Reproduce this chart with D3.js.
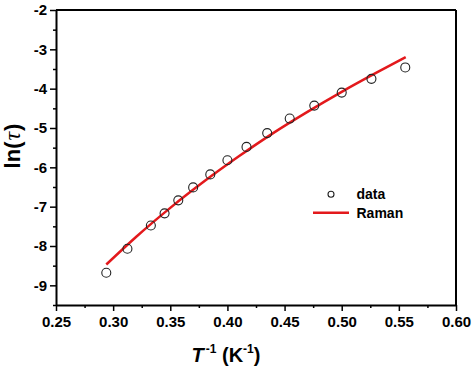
<!DOCTYPE html>
<html>
<head>
<meta charset="utf-8">
<script src="https://cdn.jsdelivr.net/npm/d3@7"></script>
<style>
  body { margin: 0; background: #fff; }
  text { font-family: "Liberation Sans", Arial, sans-serif; }
</style>
</head>
<body>
<div id="canvas"></div>
<script>
// data
const invT = [0.294, 0.3125, 0.333, 0.345, 0.357, 0.370, 0.385, 0.400, 0.4167, 0.4348, 0.4545, 0.476, 0.500, 0.526, 0.5556];
const lnTau = [-8.68, -8.07, -7.48, -7.17, -6.84, -6.51, -6.18, -5.82, -5.48, -5.13, -4.76, -4.43, -4.10, -3.75, -3.46];

// Raman fit curve, read at a few points
const fitX = [0.294, 0.32, 0.35, 0.38, 0.41, 0.44, 0.47, 0.50, 0.53, 0.556];
const fitY = [-8.47, -7.77, -7.03, -6.35, -5.72, -5.13, -4.59, -4.08, -3.60, -3.20];

const xTicks = [0.25, 0.30, 0.35, 0.40, 0.45, 0.50, 0.55, 0.60];
const yTicks = [-9, -8, -7, -6, -5, -4, -3, -2];

const margin = { top: 10, right: 18, bottom: 68, left: 56 },
    width = 474 - margin.left - margin.right,
    height = 373 - margin.top - margin.bottom;

const svg = d3.select("#canvas")
    .append("svg")
    .attr("width", 474)
    .attr("height", 373)
    .append("g")
    .attr("transform", `translate(${margin.left},${margin.top})`);

const x = d3.scaleLinear().domain([0.25, 0.60]).range([0, width]);
const y = d3.scaleLinear().domain([-9.5, -2]).range([height, 0]);

// minor ticks
const xMinor = d3.range(0.275, 0.6, 0.05);
const yMinor = d3.range(-9.5, -2, 1);

svg.append("g")
    .attr("transform", `translate(0,${height})`)
    .call(d3.axisBottom(x).tickValues(xMinor).tickSize(3).tickFormat(""))
    .call(g => g.select(".domain").remove());

svg.append("g")
    .call(d3.axisLeft(y).tickValues(yMinor).tickSize(3).tickFormat(""))
    .call(g => g.select(".domain").remove());

const xAxis = svg.append("g")
    .attr("transform", `translate(0,${height})`)
    .call(d3.axisBottom(x).tickValues(xTicks).tickSize(6).tickSizeOuter(0).tickPadding(5)
        .tickFormat(d3.format(".2f")));

const yAxis = svg.append("g")
    .call(d3.axisLeft(y).tickValues(yTicks).tickSize(6).tickSizeOuter(0).tickPadding(3)
        .tickFormat(d => d));

svg.selectAll(".tick text")
    .attr("font-size", 15).attr("font-weight", "bold").attr("fill", "#000")
    .attr("font-family", "Liberation Sans, Arial, sans-serif");
svg.selectAll(".domain").attr("stroke-width", 2);
svg.selectAll(".tick line").attr("stroke-width", 1.5);

// frame top and right
svg.append("line").attr("x1", 0).attr("x2", width).attr("y1", 0).attr("y2", 0)
    .attr("stroke", "#000").attr("stroke-width", 2);
svg.append("line").attr("x1", width).attr("x2", width).attr("y1", 0).attr("y2", height)
    .attr("stroke", "#000").attr("stroke-width", 2);

// fit line
svg.append("path")
    .datum(fitX.map((d, i) => [d, fitY[i]]))
    .attr("fill", "none")
    .attr("stroke", "#e3191c")
    .attr("stroke-width", 2.5)
    .attr("d", d3.line().curve(d3.curveMonotoneX)
        .x(d => x(d[0]))
        .y(d => y(d[1])));

// data points
svg.append("g")
    .selectAll("circle")
    .data(invT.map((d, i) => [d, lnTau[i]]))
    .join("circle")
    .attr("cx", d => x(d[0]))
    .attr("cy", d => y(d[1]))
    .attr("r", 4.5)
    .attr("fill", "none")
    .attr("stroke", "#222")
    .attr("stroke-width", 1.1);

// legend
svg.append("circle")
    .attr("cx", 275).attr("cy", 184.3).attr("r", 3)
    .attr("fill", "none").attr("stroke", "#222").attr("stroke-width", 1.1);
svg.append("text").attr("x", 300.5).attr("y", 189)
    .attr("font-size", 14).attr("font-weight", "bold").text("data");
svg.append("line").attr("x1", 257).attr("x2", 293).attr("y1", 202.7).attr("y2", 202.7)
    .attr("stroke", "#e3191c").attr("stroke-width", 2.5);
svg.append("text").attr("x", 300.5).attr("y", 207.7)
    .attr("font-size", 14).attr("font-weight", "bold").text("Raman");

// axis titles
const xt = svg.append("text")
    .attr("x", width / 2 - 30).attr("y", height + 57)
    .attr("text-anchor", "middle")
    .attr("font-size", 20).attr("font-weight", "bold");
xt.append("tspan").attr("font-style", "italic").text("T");
xt.append("tspan").attr("font-size", 12).attr("dx", 2).attr("dy", -9).text("-1");
xt.append("tspan").attr("dy", 9).text(" (K");
xt.append("tspan").attr("font-size", 12).attr("dy", -9).text("-1");
xt.append("tspan").attr("dy", 9).text(")");

const yt = svg.append("text")
    .attr("transform", `translate(${-36},${136}) rotate(-90)`)
    .attr("text-anchor", "middle")
    .attr("font-size", 22).attr("font-weight", "bold");
yt.append("tspan").text("ln(");
yt.append("tspan").attr("font-family", "Liberation Serif, serif").attr("font-style", "italic")
    .attr("font-weight", "normal").attr("font-size", 24).attr("dx", 1).text("τ");
yt.append("tspan").attr("dx", 1).text(")");
</script>
</body>
</html>
